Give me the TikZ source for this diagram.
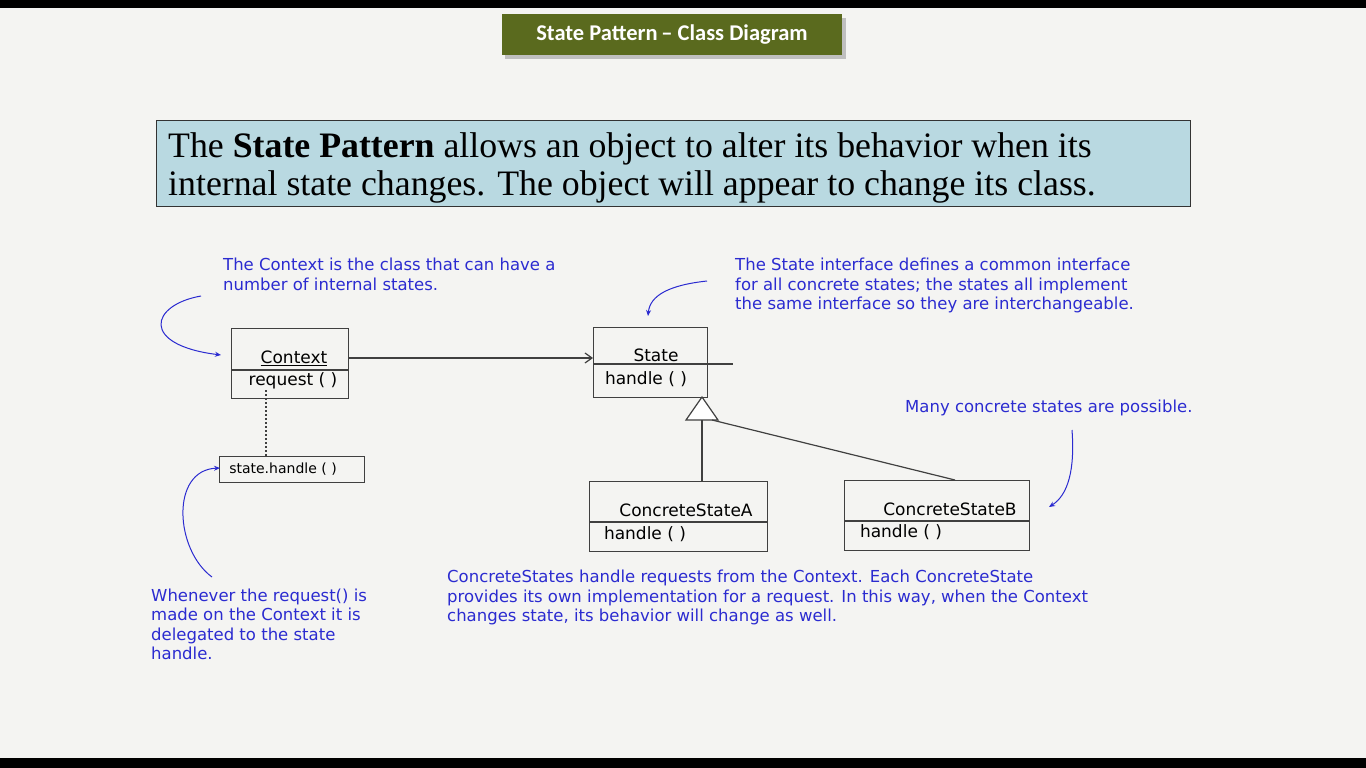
\documentclass[tikz,border=0pt]{standalone}
\usepackage{fontspec}
\setmainfont{Liberation Serif}
\newfontfamily\ann{DejaVu Sans}
\newfontfamily\titlef{Carlito}
\usetikzlibrary{arrows.meta}
\definecolor{annblue}{HTML}{2B2BD0}
\definecolor{olive}{HTML}{5A6A1E}
\definecolor{defblue}{HTML}{B9D9E1}
\definecolor{bg}{HTML}{F4F4F2}
\begin{document}
\begin{tikzpicture}[x=1pt,y=-1pt,
  cls/.style={draw=black!75,line width=1.2pt},
  lbl/.style={font=\ann\fontsize{17}{19}\selectfont,text=black,inner sep=0pt},
  note/.style={font=\ann\fontsize{16.5}{19.5}\selectfont,text=annblue,align=left,anchor=north west,inner sep=0pt},
  barrow/.style={draw=annblue,line width=1pt,-{Stealth[length=6pt,width=5pt]}},
  conn/.style={draw=black!75,line width=1.2pt}]
\useasboundingbox (0,0) rectangle (1366,768);
\fill[bg] (0,0) rectangle (1366,768);
\fill[black] (0,0) rectangle (1366,8);
\fill[black] (0,758) rectangle (1366,768);
% title
\fill[black!25] (505,18) rectangle (846,59);
\node[fill=olive,minimum width=340pt,minimum height=41pt,inner sep=0pt,text=white,font=\titlef\bfseries\fontsize{22.5}{26}\selectfont] (title) at (672,34.5) {State Pattern\,\textendash\ Class Diagram};
% definition
\node[draw=black!80,line width=1.2pt,fill=defblue,minimum width=1034pt,minimum height=86pt,anchor=north west] (def) at (156,120) {};
\node[anchor=west,inner sep=0pt,font=\fontsize{35.8}{38}\selectfont,align=left] (deftxt) at (168,168) {The \textbf{State Pattern} allows an object to alter its behavior when its\\internal state changes. The object will appear to change its class.};
% Context
\node[cls,minimum width=117pt,minimum height=70pt,anchor=north west] (ctx) at (231,328) {};
\draw[cls] (231,370) -- (348,370);
\node[lbl] (ctxn) at (294,358) {\underline{Context}};
\node[lbl] (ctxm) at (293,381) {request ( )};
\node[cls,minimum width=145pt,minimum height=26pt,anchor=north west] (sh) at (219,456) {};
\node[lbl,font=\ann\fontsize{14}{16}\selectfont] (shl) at (283,469) {state.handle ( )};
\coordinate (dotA) at (266,390);
\coordinate (dotB) at (266,456);
\draw[black!75,line width=1.2pt,dash pattern=on 2pt off 2pt] (dotA) -- (dotB);
% State
\node[cls,minimum width=114pt,minimum height=70pt,anchor=north west] (st) at (593,327) {};
\draw[cls] (593,364) -- (733,364);
\node[lbl] (stn) at (656,355) {State};
\node[lbl] (stm) at (646,379) {handle ( )};
\coordinate (ctxR) at (348,358);
\coordinate (stL) at (593,358);
\draw[conn,-{Straight Barb[length=7pt,width=10pt]}] (ctxR) -- (stL);
% triangle
\coordinate (apex) at (702,397);
\coordinate (tb) at (702,420);
\draw[cls,fill=white] (apex) -- (718,420) -- (686,420) -- cycle;
% concrete
\node[cls,minimum width=178pt,minimum height=70pt,anchor=north west] (ca) at (589,481) {};
\draw[cls] (589,522) -- (767,522);
\node[lbl] (can) at (686,510) {ConcreteStateA};
\node[lbl] (cam) at (645,534) {handle ( )};
\node[cls,minimum width=185pt,minimum height=70pt,anchor=north west] (cb) at (844,480) {};
\draw[cls] (844,521) -- (1029,521);
\node[lbl] (cbn) at (950,509) {ConcreteStateB};
\node[lbl] (cbm) at (901,532) {handle ( )};
\draw[conn] (tb) -- (702,481);
\draw[conn] (712,420) -- (955,480);
% notes
\node[note] (n1) at (223,258) {The Context is the class that can have a\\number of internal states.};
\node[note] (n2) at (735,258) {The State interface defines a common interface\\for all concrete states; the states all implement\\the same interface so they are interchangeable.};
\node[note] (n3) at (905,400) {Many concrete states are possible.};
\node[note] (n4) at (447,570) {ConcreteStates handle requests from the Context. Each ConcreteState\\provides its own implementation for a request. In this way, when the Context\\changes state, its behavior will change as well.};
\node[note,font=\ann\fontsize{16.5}{19.2}\selectfont] (n5) at (151,589) {Whenever the request() is\\made on the Context it is\\delegated to the state\\handle.};
% blue arrows
\draw[barrow] (201,296) .. controls (150,305) and (140,345) .. (221,355);
\draw[barrow] (707,281) .. controls (670,285) and (650,295) .. (648,316);
\draw[barrow] (1072,430) .. controls (1075,470) and (1068,495) .. (1049,507);
\draw[barrow] (212,577) .. controls (175,550) and (170,470) .. (220,468);
\end{tikzpicture}
\end{document}
